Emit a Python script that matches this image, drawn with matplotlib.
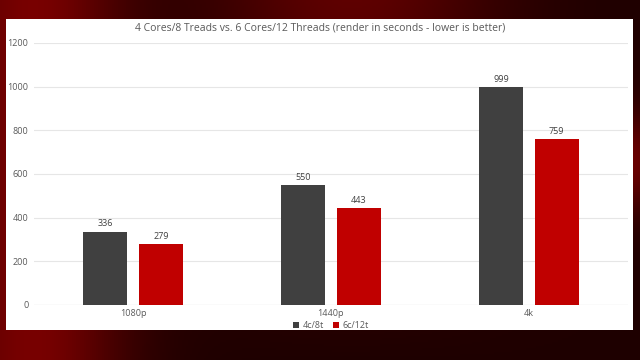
import numpy as np
import matplotlib
matplotlib.use("Agg")
import matplotlib.pyplot as plt

categories = ["1080p", "1440p", "4k"]
series_names = ["4c/8t", "6c/12t"]
vals_4c = [336, 550, 999]
vals_6c = [279, 443, 759]
title = "4 Cores/8 Treads vs. 6 Cores/12 Threads (render in seconds - lower is better)"

plt.rcParams['font.family'] = ['Open Sans', 'DejaVu Sans']

fig = plt.figure(figsize=(6.4, 3.6), dpi=100)

# decorative dark red background
bg = fig.add_axes([0, 0, 1, 1])
yy, xx = np.mgrid[0:1:180j, 0:1:320j]
r = (0.35 * np.exp(-((xx - 0.05) ** 2) / 0.02)
     + 0.25 * np.exp(-((xx - 0.55) ** 2) / 0.05) * (1 - yy)
     + 0.3 * np.exp(-((xx - 0.98) ** 2) / 0.005) * np.exp(-((yy - 0.45) ** 2) / 0.02))
img = np.zeros((180, 320, 3))
img[..., 0] = np.clip(0.12 + r, 0, 1)
bg.imshow(img, aspect='auto', extent=[0, 1, 0, 1], origin='upper')
bg.set_axis_off()

# white chart panel
panel = fig.add_axes([0.0094, 0.0833, 0.98, 0.864])
panel.set_facecolor('white')
panel.set_xticks([]); panel.set_yticks([])
for s in panel.spines.values():
    s.set_visible(False)

ax = fig.add_axes([0.053, 0.1528, 0.928, 0.7278])
ax.set_facecolor('none')
x = np.arange(len(categories))
w = 0.222
off = 0.141
b1 = ax.bar(x - off, vals_4c, w, color='#404040', label=series_names[0], zorder=3)
b2 = ax.bar(x + off, vals_6c, w, color='#c00000', label=series_names[1], zorder=3)
for bars in (b1, b2):
    for b in bars:
        ax.text(b.get_x() + b.get_width() / 2, b.get_height() + 15, f"{int(b.get_height())}",
                ha='center', va='bottom', fontsize=6.5, color='#404040')
ax.set_xlim(-0.5, 2.5)
ax.set_ylim(0, 1200)
ax.set_yticks(range(0, 1201, 200))
ax.set_xticks(x)
ax.set_xticklabels(categories)
ax.tick_params(axis='both', length=0, labelsize=6.5, colors='#595959')
ax.tick_params(axis='y', pad=4)
ax.tick_params(axis='x', pad=3)
ax.grid(axis='y', color='#e6e6e6', linewidth=0.8, zorder=0)
for s in ax.spines.values():
    s.set_visible(False)
ax.axhline(0, color='#d9d9d9', linewidth=0.8, zorder=1)

fig.text(0.5, 0.922, title, ha='center', va='center', fontsize=7.5, color='#595959')
ax.legend(loc='center', bbox_to_anchor=(0.5, -0.078), ncol=2, frameon=False, borderpad=0,
          fontsize=6.5, handlelength=0.7, handleheight=0.7, columnspacing=1.0, handletextpad=0.4,
          labelcolor='#595959')

fig.savefig("out.png", dpi=100)
